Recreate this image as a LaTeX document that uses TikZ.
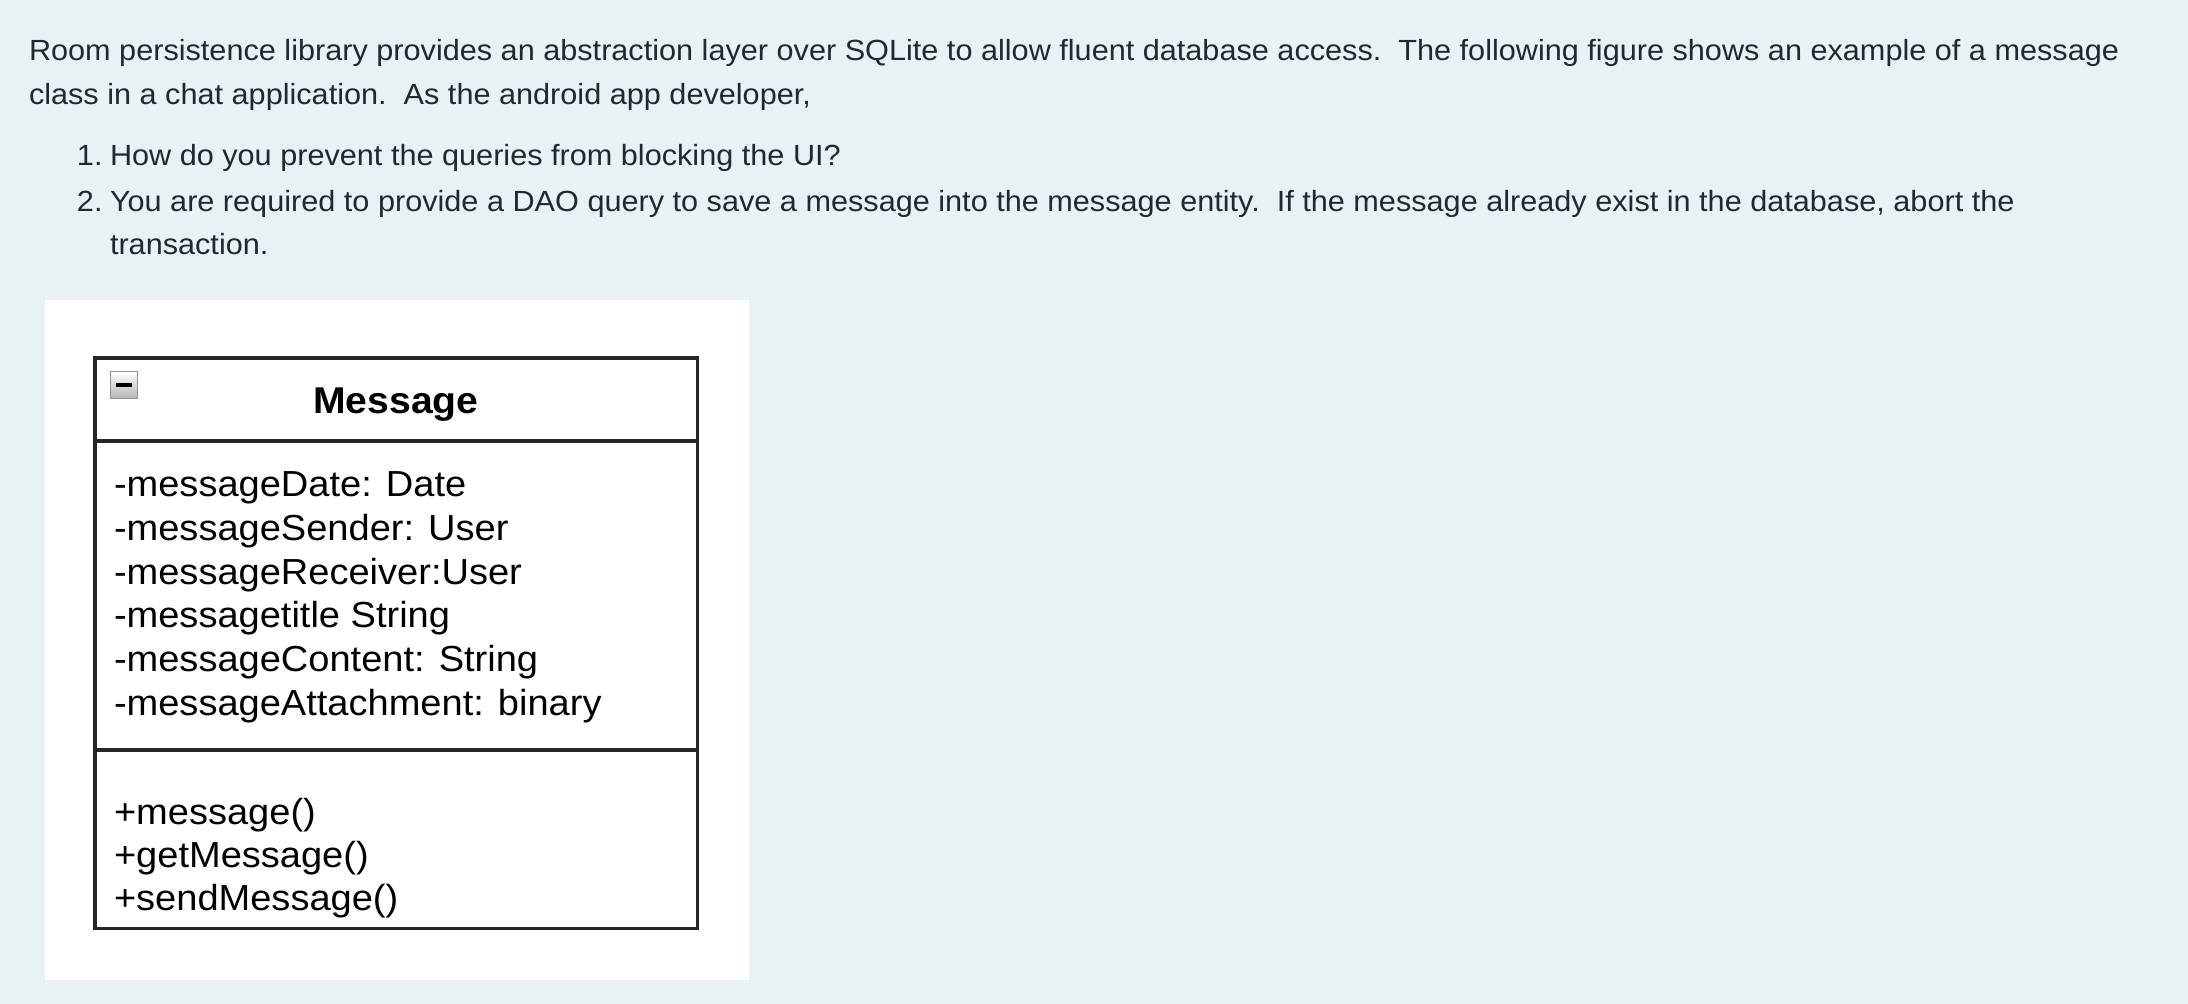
\documentclass[tikz,border=0pt]{standalone}
\usepackage{fontspec}
\setmainfont{Liberation Sans}
\newfontfamily\prosefont[FakeStretch=1.05]{Liberation Sans}
\newfontfamily\umlfont[FakeStretch=1.05]{Liberation Sans}
\usetikzlibrary{positioning}
\definecolor{pagebg}{HTML}{E8F1F4}
\definecolor{pagetext}{HTML}{1D2A30}
\definecolor{iconedge}{HTML}{8C939B}
\tikzstyle{prose}=[anchor=base west, inner sep=0, outer sep=0, text=pagetext,
                   font=\prosefont\fontsize{8.3}{10}\selectfont]
\tikzstyle{umlpart}=[draw=black!85, line width=1pt, inner sep=0, outer sep=0, minimum width=6.02cm]
\tikzstyle{member}=[anchor=base west, inner sep=0, outer sep=0, font=\umlfont\fontsize{10.3}{13}\selectfont]
\begin{document}
\begin{tikzpicture}[x=0.01cm, y=-0.01cm]
    \fill[pagebg] (0,0) rectangle (2188,1004);
    \useasboundingbox (0,0) rectangle (2188,1004);
    % question text
    \node[prose] (intro1) at (29,61) {Room persistence library provides an abstraction layer over SQLite to allow fluent database access.\ \ The following figure shows an example of a message};
    \node[prose] (intro2) at (29,105) {class in a chat application.\ \ As the android app developer,};
    \node[prose] (num1) at (77,166) {1.};
    \node[prose] (q1) at (110,166) {How do you prevent the queries from blocking the UI?};
    \node[prose] (num2) at (77,212) {2.};
    \node[prose] (q2) at (110,212) {You are required to provide a DAO query to save a message into the message entity.\ \ If the message already exist in the database, abort the};
    \node[prose] (q2b) at (110,255) {transaction.};
    % class diagram
    \node[fill=white, inner sep=0, minimum width=7.04cm, minimum height=6.8cm, anchor=north west] (panel) at (44,299) {};
    \node[umlpart, minimum height=0.83cm, anchor=north west] (head) at (95,358) {};
    \node[umlpart, minimum height=3.09cm, below=0pt of head] (attrs) {};
    \node[umlpart, minimum height=1.78cm, below=0pt of attrs] (ops) {};
    \node[anchor=base, inner sep=0, font=\umlfont\bfseries\fontsize{10.6}{12}\selectfont] (title) at (396,414) {Message};
    \node[draw=iconedge, line width=0.4pt, top color=white, bottom color=black!30, inner sep=0,
          minimum size=0.27cm, anchor=north west] (fold) at (110,371) {};
    \draw[line width=1.1pt] ([xshift=-0.08cm]fold.center) -- ([xshift=0.08cm]fold.center);
    \node[member] (date) at (114,497) {-messageDate: Date};
    \node[member] (sender) at (114,541) {-messageSender: User};
    \node[member] (receiver) at (114,585) {-messageReceiver:User};
    \node[member] (mtitle) at (114,628) {-messagetitle String};
    \node[member] (content) at (114,672) {-messageContent: String};
    \node[member] (attach) at (114,716) {-messageAttachment: binary};
    \node[member] (create) at (114,825) {+message()};
    \node[member] (getmsg) at (114,868) {+getMessage()};
    \node[member] (sendmsg) at (114,911) {+sendMessage()};
\end{tikzpicture}
\end{document}
